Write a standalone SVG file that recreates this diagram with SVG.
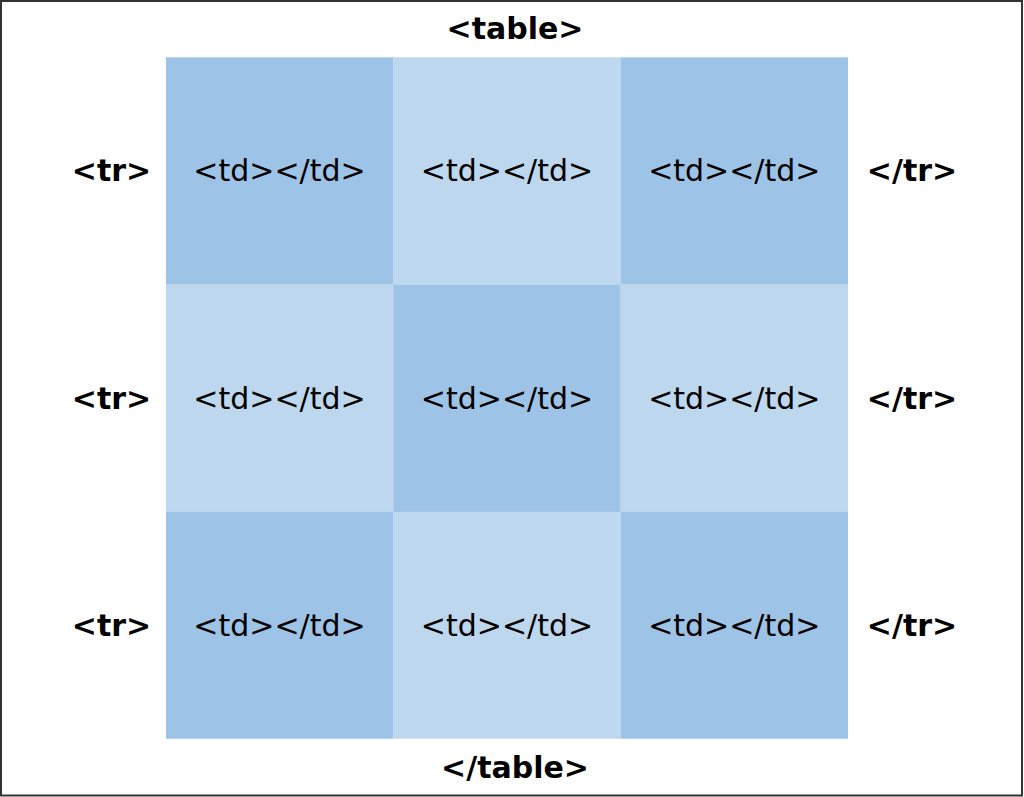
<svg xmlns="http://www.w3.org/2000/svg" width="1024" height="797" viewBox="0 0 1024 797">
<style>
.dark{fill:#9DC3E6}
.light{fill:#BDD7EE}
.td{font-family:"DejaVu Sans",sans-serif;font-size:30px;fill:#000;text-anchor:middle}
.tag{font-family:"DejaVu Sans",sans-serif;font-size:30px;font-weight:bold;fill:#000;text-anchor:middle}
</style>
<rect x="0" y="0" width="1024" height="797" fill="#fff"/>
<rect x="1" y="1" width="1021" height="794.5" fill="none" stroke="#333" stroke-width="2"/>
<g id="labels">
<text class="tag" x="515" y="38.5">&lt;table&gt;</text>
<text class="tag" x="515" y="778">&lt;/table&gt;</text>
<text class="tag" x="111.5" y="181">&lt;tr&gt;</text>
<text class="tag" x="111.5" y="408.5">&lt;tr&gt;</text>
<text class="tag" x="111.5" y="636">&lt;tr&gt;</text>
<text class="tag" x="912" y="181">&lt;/tr&gt;</text>
<text class="tag" x="912" y="408.5">&lt;/tr&gt;</text>
<text class="tag" x="912" y="636">&lt;/tr&gt;</text>
</g>
<g id="cell-1-1"><rect class="dark" x="166" y="57.3" width="227.4" height="227.4"/><text class="td" x="279.5" y="181">&lt;td&gt;&lt;/td&gt;</text></g>
<g id="cell-1-2"><rect class="light" x="393.3" y="57.3" width="227.4" height="227.4"/><text class="td" x="507" y="181">&lt;td&gt;&lt;/td&gt;</text></g>
<g id="cell-1-3"><rect class="dark" x="620.6" y="57.3" width="227.4" height="227.4"/><text class="td" x="734.3" y="181">&lt;td&gt;&lt;/td&gt;</text></g>
<g id="cell-2-1"><rect class="light" x="166" y="284.6" width="227.4" height="227.4"/><text class="td" x="279.5" y="408.5">&lt;td&gt;&lt;/td&gt;</text></g>
<g id="cell-2-2"><rect class="dark" x="393.3" y="284.6" width="227.4" height="227.4"/><text class="td" x="507" y="408.5">&lt;td&gt;&lt;/td&gt;</text></g>
<g id="cell-2-3"><rect class="light" x="620.6" y="284.6" width="227.4" height="227.4"/><text class="td" x="734.3" y="408.5">&lt;td&gt;&lt;/td&gt;</text></g>
<g id="cell-3-1"><rect class="dark" x="166" y="511.9" width="227.4" height="226.8"/><text class="td" x="279.5" y="636">&lt;td&gt;&lt;/td&gt;</text></g>
<g id="cell-3-2"><rect class="light" x="393.3" y="511.9" width="227.4" height="226.8"/><text class="td" x="507" y="636">&lt;td&gt;&lt;/td&gt;</text></g>
<g id="cell-3-3"><rect class="dark" x="620.6" y="511.9" width="227.4" height="226.8"/><text class="td" x="734.3" y="636">&lt;td&gt;&lt;/td&gt;</text></g>
<g id="connectors"></g>
</svg>
